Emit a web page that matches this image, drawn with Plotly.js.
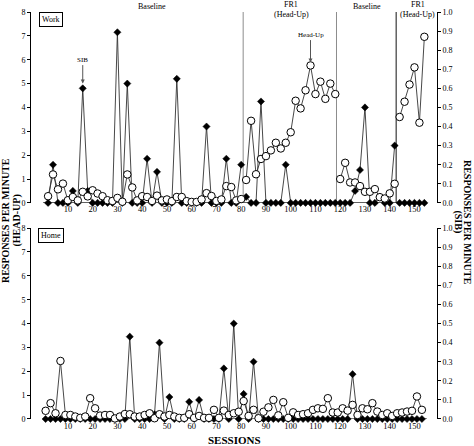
<!DOCTYPE html>
<html>
<head>
<meta charset="utf-8">
<script src="https://cdn.plot.ly/plotly-3.0.1.min.js"></script>
<style>
  html, body { margin: 0; padding: 0; background: #fff; }
  #fig { width: 474px; height: 446px; }
</style>
</head>
<body>
<div id="fig"></div>
<script>
// Work sessions are the even ones, home sessions the odd ones
var workSessions = [2,4,6,8,10,12,14,16,18,20,22,24,26,28,30,32,34,36,38,40,
  42,44,46,48,50,52,54,56,58,60,62,64,66,68,70,72,74,76,78,80,
  82,84,86,88,90,92,94,96,98,100,102,104,106,108,110,112,114,116,118,120,
  122,124,126,128,130,132,134,136,138,140,142,144,146,148,150,152,154];
var homeSessions = [1,3,5,7,9,11,13,15,17,19,21,23,25,27,29,31,33,35,37,39,
  41,43,45,47,49,51,53,55,57,59,61,63,65,67,69,71,73,75,77,79,
  81,83,85,87,89,91,93,95,97,99,101,103,105,107,109,111,113,115,117,119,
  121,123,125,127,129,131,133,135,137,139,141,143,145,147,149,151,153];

// open circles, read against the right axis (0-1)
var workHeadUp = [0.035,0.149,0.071,0.101,0.014,0.031,0.013,0.058,0.034,0.066,
  0.049,0.035,0.014,0.010,0.026,0.006,0.149,0.081,0.013,0.035,
  0.031,0.010,0.038,0.013,0.018,0.009,0.031,0.031,0.009,0.005,
  0.005,0.018,0.051,0.036,0.010,0.018,0.088,0.083,0.013,0.020,
  0.120,0.430,0.150,0.230,0.245,0.275,0.315,0.285,0.315,0.370,
  0.535,0.495,0.590,0.720,0.570,0.635,0.545,0.625,0.570,0.125,
  0.210,0.107,0.107,0.088,0.058,0.058,0.072,0.030,0.023,0.050,
  0.100,0.450,0.530,0.620,0.710,0.420,0.870];
// filled diamonds, read against the left axis (0-8)
var workSIB = [0,1.6,0,0,0,0.5,0,4.8,0.5,0,
  0,0,0,0,7.15,0,5.0,0,0,0,
  1.85,0,1.3,0,0,0,5.2,0,0,0,
  0,0,3.2,0,0,0,1.85,0,0,1.6,
  0.25,0,0,4.25,0,0,0,0,1.6,0,
  0,0,0,0,0,0,0,0,0,0,
  0,0,0.5,1.38,4.0,0,0,0.25,0,0,
  2.4,0,0,0,0,0,0];

var homeHeadUp = [0.043,0.083,0.030,0.304,0.021,0.021,0.013,0.006,0.013,0.109,
  0.056,0.018,0.021,0.021,0.003,0.013,0.026,0.025,0.013,0.013,
  0.021,0.030,0.004,0.025,0.013,0.021,0.013,0.006,0.006,0.025,
  0.006,0.016,0.006,0.006,0.048,0.006,0.044,0.021,0.030,0.038,
  0.094,0.016,0.048,0.004,0.038,0.061,0.100,0.019,0.088,0.006,
  0.035,0.021,0.025,0.030,0.048,0.056,0.053,0.109,0.034,0.034,
  0.056,0.044,0.074,0.021,0.056,0.051,0.083,0.039,0.021,0.030,
  0.016,0.030,0.034,0.039,0.043,0.118,0.048];
var homeSIB = [0,0,0,0,0,0,0,0,0,0,
  0,0,0,0,0,0,0,3.45,0,0,
  0,0,0.2,3.2,0,0.92,0,0,0,0.72,
  0,0.8,0,0,0,0,2.12,0,4.0,0,
  1.05,0,2.4,0,0,0,0,0,0,0,
  0,0,0,0,0,0,0,0,0,0,
  0,0,1.88,0,0,0,0,0,0,0,
  0,0,0,0,0,0,0];

var sessionTicks = [10,20,30,40,50,60,70,80,90,100,110,120,130,140,150];
var phaseChanges = [80.8, 118.5, 142.6];
var phaseColors = ['#8c8c8c', '#8c8c8c', '#111'];
var phaseNames = ['Baseline', 'FR1', 'Baseline', 'FR1'];
var phaseSub = ['', '(Head-Up)', '', '(Head-Up)'];
var phaseCenters = [43.8, 100.3, 130.9, 151.3];

var serif = 'Liberation Serif, Times New Roman, serif';

// break the path where a phase line is crossed
function splitPhases(xs, ys, cuts) {
  var ox = [], oy = [];
  for (var i = 0; i < xs.length; i++) {
    if (i > 0) {
      for (var c = 0; c < cuts.length; c++) {
        if (xs[i - 1] < cuts[c] && xs[i] > cuts[c]) { ox.push(null); oy.push(null); }
      }
    }
    ox.push(xs[i]); oy.push(ys[i]);
  }
  return {x: ox, y: oy};
}

function circles(x, y, xa, ya) {
  return {x: x, y: y, xaxis: xa, yaxis: ya, type: 'scatter', mode: 'lines+markers',
    cliponaxis: false, connectgaps: false,
    line: {color: '#333', width: 0.9},
    marker: {symbol: 'circle', size: 7.5, color: '#fff', line: {color: '#000', width: 1}}};
}
function diamonds(x, y, xa, ya) {
  return {x: x, y: y, xaxis: xa, yaxis: ya, type: 'scatter', mode: 'lines+markers',
    cliponaxis: false, connectgaps: false,
    line: {color: '#333', width: 0.9},
    marker: {symbol: 'diamond', size: 5.5, color: '#000', line: {color: '#000', width: 0.5}}};
}

var wh = splitPhases(workSessions, workHeadUp, phaseChanges);
var ws = splitPhases(workSessions, workSIB, phaseChanges);

var data = [
  circles(wh.x, wh.y, 'x', 'y2'),
  diamonds(ws.x, ws.y, 'x', 'y'),
  circles(homeSessions, homeHeadUp, 'x2', 'y4'),
  diamonds(homeSessions, homeSIB, 'x2', 'y3')
];

var tickFont = {family: serif, size: 8, color: '#000'};
function xAx(anchor) {
  return {domain: [0, 1], range: [-4.9, 159.1], anchor: anchor, tickvals: sessionTicks,
    ticks: '', showline: false, zeroline: false, showgrid: false,
    tickfont: {family: serif, size: 8.5, color: '#000'}};
}
function leftAx(dom) {
  return {domain: dom, range: [0, 8], dtick: 1, ticks: 'outside', ticklen: 3, tickcolor: '#000',
    showline: true, linecolor: '#000', linewidth: 1, showgrid: false, zeroline: false,
    tickfont: tickFont};
}
function rightAx(over, anchor) {
  return {overlaying: over, anchor: anchor, side: 'right', range: [0, 1], dtick: 0.1, tickformat: '.1f',
    ticks: 'outside', ticklen: 3, tickcolor: '#000', showline: true, linecolor: '#000', linewidth: 1,
    showgrid: false, zeroline: false, tickfont: tickFont};
}

var shapes = [
  {type: 'line', xref: 'x', yref: 'y', x0: 0, x1: 155, y0: 0, y1: 0, layer: 'below', line: {color: '#000', width: 1}},
  {type: 'line', xref: 'x2', yref: 'y3', x0: 0, x1: 155, y0: 0, y1: 0, layer: 'below', line: {color: '#000', width: 1}}
];
phaseChanges.forEach(function (p, i) {
  shapes.push({type: 'line', xref: 'x', yref: 'y', x0: p, x1: p, y0: 0, y1: 8, layer: 'below',
    line: {color: phaseColors[i], width: 1}});
});

var annotations = [];
phaseNames.forEach(function (n, i) {
  var two = phaseSub[i] !== '';
  annotations.push({xref: 'x', yref: 'paper', x: phaseCenters[i], y: two ? 1.0185 : 1.0147,
    text: n, showarrow: false, xanchor: 'center', yanchor: 'middle',
    font: {family: serif, size: 8, color: '#000'}});
  if (two) annotations.push({xref: 'x', yref: 'paper', x: phaseCenters[i], y: 0.995,
    text: phaseSub[i], showarrow: false, xanchor: 'center', yanchor: 'middle',
    font: {family: serif, size: 8, color: '#000'}});
});

function boxLabel(t, y) {
  return {xref: 'paper', yref: 'paper', x: 0.049, y: y, text: t, showarrow: false,
    xanchor: 'center', yanchor: 'middle', bordercolor: '#000', borderwidth: 1, borderpad: 2,
    bgcolor: '#fff', font: {family: serif, size: 8, color: '#000'}};
}
annotations.push(boxLabel('Work', 0.9816));
annotations.push(boxLabel('Home', 0.451));

annotations.push({xref: 'x', yref: 'y', x: 16, y: 5.0, text: 'SIB', showarrow: true,
  arrowhead: 2, arrowsize: 0.8, arrowwidth: 1, arrowcolor: '#555', ax: 0, ay: -24,
  font: {family: serif, size: 7, color: '#000'}});
annotations.push({xref: 'x', yref: 'y2', x: 108, y: 0.735, text: 'Head-Up', showarrow: true,
  arrowhead: 2, arrowsize: 0.8, arrowwidth: 1, arrowcolor: '#555', ax: 0, ay: -28,
  font: {family: serif, size: 7, color: '#000'}});

function title(t, x, y, ang, size) {
  return {xref: 'paper', yref: 'paper', x: x, y: y, text: '<b>' + t + '</b>', showarrow: false,
    textangle: ang, xanchor: 'center', yanchor: 'middle',
    font: {family: serif, size: size, color: '#000'}};
}
annotations.push(title('RESPONSES PER MINUTE', -0.0615, 0.4865, -90, 10));
annotations.push(title('(HEAD-UP)', -0.0357, 0.4865, -90, 10));
annotations.push(title('RESPONSES PER MINUTE', 1.0751, 0.483, 90, 10));
annotations.push(title('(SIB)', 1.0517, 0.483, 90, 10));
annotations.push(title('SESSIONS', 0.5, -0.0505, 0, 11));

var layout = {
  width: 474, height: 446,
  margin: {l: 31, r: 37, t: 12, b: 27},
  paper_bgcolor: '#fff', plot_bgcolor: 'rgba(0,0,0,0)',
  showlegend: false,
  font: {family: serif, size: 9, color: '#000'},
  xaxis: xAx('y'),
  yaxis: leftAx([0.531, 1]),
  yaxis2: rightAx('y', 'x'),
  xaxis2: xAx('y3'),
  yaxis3: leftAx([0, 0.469]),
  yaxis4: rightAx('y3', 'x2'),
  shapes: shapes,
  annotations: annotations
};

Plotly.newPlot('fig', data, layout, {staticPlot: true, displayModeBar: false});
</script>
</body>
</html>
